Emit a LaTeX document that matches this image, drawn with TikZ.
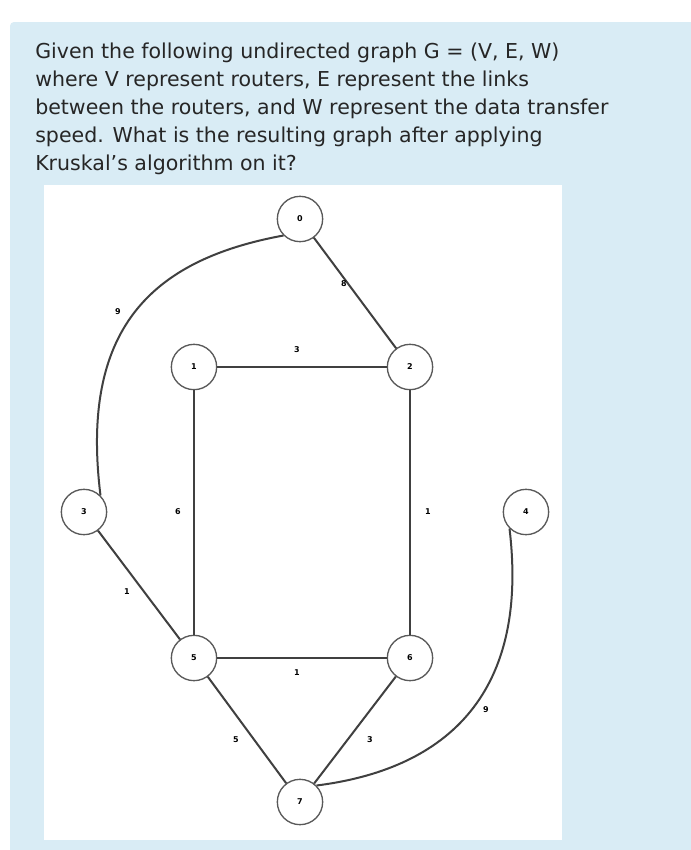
\documentclass[tikz,border=0pt]{standalone}
\usepackage{fontspec}
\setmainfont{DejaVu Sans}
\begin{document}
\begin{tikzpicture}[x=0.75pt,y=-0.75pt,
  vtx/.style={draw=black!65,line width=1pt,circle,minimum size=34pt,inner sep=0pt,fill=white,font=\fontsize{6}{7}\selectfont\bfseries},
  edge/.style={line width=1.5pt,black!75},
  wt/.style={font=\fontsize{6}{7}\selectfont\bfseries},
  qtext/.style={anchor=base west,font=\fontsize{15.4}{18}\selectfont,text=black!85,inner sep=0pt}]
\useasboundingbox (0,0) rectangle (690,850);
\fill[white] (0,0) rectangle (690,850);
\fill[rounded corners=3pt,fill={rgb,255:red,217;green,236;blue,245}] (10,22) rectangle (700,860);
\fill[white] (44,185) rectangle (562,840);
\node[qtext] (l1) at (35,58) {Given the following undirected graph G = (V, E, W)};
\node[qtext] (l2) at (35,86) {where V represent routers, E represent the links};
\node[qtext] (l3) at (35,114) {between the routers, and W represent the data transfer};
\node[qtext] (l4) at (35,142) {speed. What is the resulting graph after applying};
\node[qtext] (l5) at (35,170) {Kruskal\char"0027 s algorithm on it?};
\node[vtx] (n0) at (300,219) {0};
\node[vtx] (n1) at (194,367) {1};
\node[vtx] (n2) at (410,367) {2};
\node[vtx] (n3) at (84,512) {3};
\node[vtx] (n4) at (526,512) {4};
\node[vtx] (n5) at (194,658) {5};
\node[vtx] (n6) at (410,658) {6};
\node[vtx] (n7) at (300,802) {7};
\draw[edge] (n0.south west) .. controls (150,260) and (80,330) .. (n3.north east);
\draw[edge] (n0) -- (n2);
\draw[edge] (n1) -- (n2);
\draw[edge] (n1) -- (n5);
\draw[edge] (n2) -- (n6);
\draw[edge] (n3) -- (n5);
\draw[edge] (n5) -- (n6);
\draw[edge] (n5) -- (n7);
\draw[edge] (n6) -- (n7);
\draw[edge] (n4.south west) .. controls (530,700) and (440,770) .. (n7.north east);
\node[wt] (w09) at (118,312) {9};
\node[wt] (w08) at (344,284) {8};
\node[wt] (w12) at (297,350) {3};
\node[wt] (w15) at (178,512) {6};
\node[wt] (w26) at (428,512) {1};
\node[wt] (w35) at (127,592) {1};
\node[wt] (w56) at (297,673) {1};
\node[wt] (w57) at (236,740) {5};
\node[wt] (w67) at (370,740) {3};
\node[wt] (w47) at (486,710) {9};
\end{tikzpicture}
\end{document}
